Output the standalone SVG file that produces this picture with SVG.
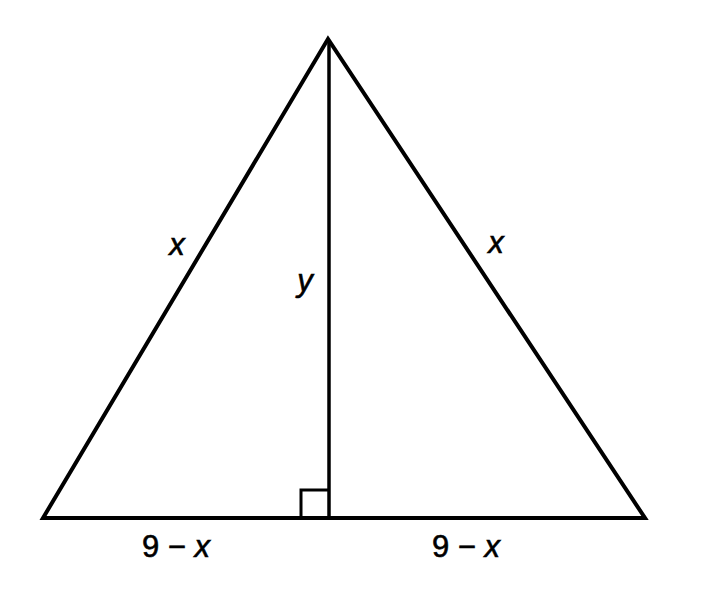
<svg xmlns="http://www.w3.org/2000/svg" width="705" height="599" viewBox="0 0 705 599">
<style>
.edge{fill:none;stroke:#000;stroke-width:4;stroke-linejoin:miter;stroke-linecap:square}
.alt{fill:none;stroke:#000;stroke-width:3.5}
.box{fill:none;stroke:#000;stroke-width:3}
.lbl{font-family:"Liberation Sans",Arial,sans-serif;font-size:31px;fill:#000;stroke:#000;stroke-width:0.6}
.it{font-style:italic}
</style>
<rect width="705" height="599" fill="#fff"/>
<g id="triangle">
<polygon class="edge" points="328,39 43,518 645,518"/>
</g>
<g id="connectors">
<line class="alt" x1="329" y1="40" x2="329" y2="518"/>
<polyline class="box" points="301,518 301,490 329,490"/>
</g>
<g id="labels">
<text class="lbl it" x="177" y="255" text-anchor="middle">x</text>
<text class="lbl it" x="496" y="253" text-anchor="middle">x</text>
<text class="lbl it" x="305" y="291" text-anchor="middle">y</text>
<text class="lbl" x="176" y="557" text-anchor="middle">9 <tspan>−</tspan> <tspan class="it">x</tspan></text>
<text class="lbl" x="466" y="557" text-anchor="middle">9 <tspan>−</tspan> <tspan class="it">x</tspan></text>
</g>
</svg>
